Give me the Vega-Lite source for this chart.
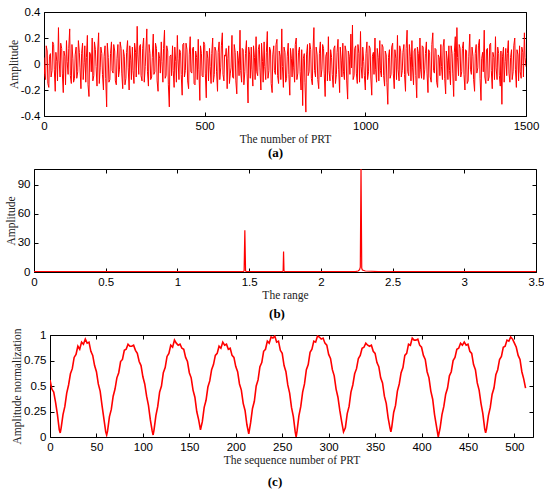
{
  "$schema": "https://vega.github.io/schema/vega-lite/v6.json",
  "padding": {"left": 0, "top": 6, "right": 0, "bottom": 0},
  "spacing": 7,
  "datasets": {
    "prt": [
      {"n":0,"amp":0.05},{"n":5,"amp":-0.12},{"n":10,"amp":0.10},{"n":15,"amp":-0.18},{"n":20,"amp":0.08},{"n":25,"amp":-0.05},{"n":30,"amp":0.15},{"n":35,"amp":-0.21},{"n":40,"amp":0.02},{"n":45,"amp":0.28},
      {"n":50,"amp":-0.10},{"n":55,"amp":0.12},{"n":60,"amp":-0.22},{"n":65,"amp":0.06},{"n":70,"amp":0.18},{"n":75,"amp":-0.08},{"n":80,"amp":0.27},{"n":85,"amp":-0.15},{"n":90,"amp":0.04},{"n":95,"amp":-0.11},
      {"n":100,"amp":0.13},{"n":105,"amp":-0.06},{"n":110,"amp":0.09},{"n":115,"amp":-0.19},{"n":120,"amp":0.16},{"n":125,"amp":0.01},{"n":130,"amp":-0.14},{"n":135,"amp":0.22},{"n":140,"amp":-0.25},{"n":145,"amp":0.07},
      {"n":150,"amp":0.20},{"n":155,"amp":-0.09},{"n":160,"amp":0.11},{"n":165,"amp":-0.17},{"n":170,"amp":0.24},{"n":175,"amp":-0.03},{"n":180,"amp":0.08},{"n":185,"amp":-0.20},{"n":190,"amp":0.14},{"n":195,"amp":-0.33},
      {"n":200,"amp":0.05},{"n":205,"amp":-0.12},{"n":210,"amp":0.17},{"n":215,"amp":-0.07},{"n":220,"amp":0.10},{"n":225,"amp":-0.16},{"n":230,"amp":0.15},{"n":235,"amp":-0.04},{"n":240,"amp":0.12},{"n":245,"amp":-0.19},
      {"n":250,"amp":0.06},{"n":255,"amp":-0.11},{"n":260,"amp":0.18},{"n":265,"amp":-0.20},{"n":270,"amp":0.03},{"n":275,"amp":0.13},{"n":280,"amp":-0.15},{"n":285,"amp":0.09},{"n":290,"amp":0.29},{"n":295,"amp":-0.08},
      {"n":300,"amp":0.15},{"n":305,"amp":-0.13},{"n":310,"amp":0.20},{"n":315,"amp":-0.02},{"n":320,"amp":0.27},{"n":325,"amp":-0.17},{"n":330,"amp":0.08},{"n":335,"amp":-0.10},{"n":340,"amp":0.23},{"n":345,"amp":-0.06},
      {"n":350,"amp":0.12},{"n":355,"amp":-0.21},{"n":360,"amp":0.04},{"n":365,"amp":0.17},{"n":370,"amp":-0.14},{"n":375,"amp":0.26},{"n":380,"amp":-0.09},{"n":385,"amp":0.10},{"n":390,"amp":-0.33},{"n":395,"amp":0.07},
      {"n":400,"amp":0.14},{"n":405,"amp":-0.18},{"n":410,"amp":0.02},{"n":415,"amp":0.22},{"n":420,"amp":-0.12},{"n":425,"amp":0.09},{"n":430,"amp":-0.24},{"n":435,"amp":0.16},{"n":440,"amp":-0.05},{"n":445,"amp":0.11},
      {"n":450,"amp":-0.19},{"n":455,"amp":0.21},{"n":460,"amp":-0.07},{"n":465,"amp":0.13},{"n":470,"amp":-0.16},{"n":475,"amp":0.05},{"n":480,"amp":0.19},{"n":485,"amp":-0.28},{"n":490,"amp":0.08},{"n":495,"amp":-0.10},
      {"n":500,"amp":0.15},{"n":505,"amp":-0.26},{"n":510,"amp":0.04},{"n":515,"amp":0.12},{"n":520,"amp":-0.15},{"n":525,"amp":0.20},{"n":530,"amp":-0.08},{"n":535,"amp":0.10},{"n":540,"amp":-0.21},{"n":545,"amp":0.17},
      {"n":550,"amp":-0.03},{"n":555,"amp":0.24},{"n":560,"amp":-0.13},{"n":565,"amp":0.06},{"n":570,"amp":-0.19},{"n":575,"amp":0.14},{"n":580,"amp":-0.07},{"n":585,"amp":0.22},{"n":590,"amp":-0.11},{"n":595,"amp":0.09},
      {"n":600,"amp":-0.23},{"n":605,"amp":0.03},{"n":610,"amp":0.26},{"n":615,"amp":-0.14},{"n":620,"amp":0.11},{"n":625,"amp":-0.06},{"n":630,"amp":0.18},{"n":635,"amp":-0.30},{"n":640,"amp":0.07},{"n":645,"amp":0.13},
      {"n":650,"amp":-0.17},{"n":655,"amp":0.05},{"n":660,"amp":0.21},{"n":665,"amp":-0.09},{"n":670,"amp":0.15},{"n":675,"amp":-0.20},{"n":680,"amp":0.02},{"n":685,"amp":0.17},{"n":690,"amp":-0.12},{"n":695,"amp":0.25},
      {"n":700,"amp":-0.05},{"n":705,"amp":0.10},{"n":710,"amp":-0.22},{"n":715,"amp":0.14},{"n":720,"amp":-0.08},{"n":725,"amp":0.19},{"n":730,"amp":-0.15},{"n":735,"amp":0.06},{"n":740,"amp":0.27},{"n":745,"amp":-0.18},
      {"n":750,"amp":0.09},{"n":755,"amp":-0.11},{"n":760,"amp":0.16},{"n":765,"amp":-0.24},{"n":770,"amp":0.04},{"n":775,"amp":0.12},{"n":780,"amp":-0.14},{"n":785,"amp":0.20},{"n":790,"amp":-0.07},{"n":795,"amp":0.13},
      {"n":800,"amp":-0.20},{"n":805,"amp":-0.32},{"n":810,"amp":0.08},{"n":815,"amp":-0.37},{"n":820,"amp":0.15},{"n":825,"amp":-0.06},{"n":830,"amp":0.11},{"n":835,"amp":-0.16},{"n":840,"amp":0.28},{"n":845,"amp":-0.10},
      {"n":850,"amp":0.07},{"n":855,"amp":-0.19},{"n":860,"amp":0.17},{"n":865,"amp":-0.04},{"n":870,"amp":0.12},{"n":875,"amp":-0.25},{"n":880,"amp":0.09},{"n":885,"amp":0.21},{"n":890,"amp":-0.13},{"n":895,"amp":0.05},
      {"n":900,"amp":-0.18},{"n":905,"amp":0.14},{"n":910,"amp":-0.08},{"n":915,"amp":0.19},{"n":920,"amp":-0.22},{"n":925,"amp":0.03},{"n":930,"amp":0.16},{"n":935,"amp":-0.12},{"n":940,"amp":0.10},{"n":945,"amp":-0.27},
      {"n":950,"amp":0.06},{"n":955,"amp":0.23},{"n":960,"amp":0.30},{"n":965,"amp":-0.09},{"n":970,"amp":0.14},{"n":975,"amp":-0.15},{"n":980,"amp":0.08},{"n":985,"amp":0.25},{"n":990,"amp":-0.11},{"n":995,"amp":0.02},
      {"n":1000,"amp":-0.20},{"n":1005,"amp":0.17},{"n":1010,"amp":-0.06},{"n":1015,"amp":0.12},{"n":1020,"amp":-0.24},{"n":1025,"amp":0.09},{"n":1030,"amp":0.20},{"n":1035,"amp":-0.14},{"n":1040,"amp":0.05},{"n":1045,"amp":0.18},
      {"n":1050,"amp":-0.10},{"n":1055,"amp":0.13},{"n":1060,"amp":-0.17},{"n":1065,"amp":0.07},{"n":1070,"amp":-0.31},{"n":1075,"amp":0.11},{"n":1080,"amp":-0.08},{"n":1085,"amp":0.16},{"n":1090,"amp":-0.19},{"n":1095,"amp":0.04},
      {"n":1100,"amp":0.22},{"n":1105,"amp":-0.13},{"n":1110,"amp":0.10},{"n":1115,"amp":-0.05},{"n":1120,"amp":0.15},{"n":1125,"amp":-0.21},{"n":1130,"amp":0.26},{"n":1135,"amp":-0.09},{"n":1140,"amp":0.06},{"n":1145,"amp":0.18},
      {"n":1150,"amp":-0.16},{"n":1155,"amp":0.12},{"n":1160,"amp":-0.26},{"n":1165,"amp":0.08},{"n":1170,"amp":0.20},{"n":1175,"amp":-0.11},{"n":1180,"amp":0.13},{"n":1185,"amp":-0.04},{"n":1190,"amp":0.17},{"n":1195,"amp":-0.22},
      {"n":1200,"amp":0.09},{"n":1205,"amp":-0.14},{"n":1210,"amp":0.24},{"n":1215,"amp":-0.07},{"n":1220,"amp":0.11},{"n":1225,"amp":-0.18},{"n":1230,"amp":0.05},{"n":1235,"amp":0.15},{"n":1240,"amp":-0.12},{"n":1245,"amp":0.19},
      {"n":1250,"amp":-0.23},{"n":1255,"amp":0.03},{"n":1260,"amp":0.14},{"n":1265,"amp":-0.16},{"n":1270,"amp":0.08},{"n":1275,"amp":-0.25},{"n":1280,"amp":0.21},{"n":1285,"amp":0.28},{"n":1290,"amp":-0.09},{"n":1295,"amp":0.12},
      {"n":1300,"amp":-0.06},{"n":1305,"amp":0.17},{"n":1310,"amp":-0.20},{"n":1315,"amp":0.10},{"n":1320,"amp":-0.13},{"n":1325,"amp":0.23},{"n":1330,"amp":-0.08},{"n":1335,"amp":0.06},{"n":1340,"amp":-0.21},{"n":1345,"amp":0.15},
      {"n":1350,"amp":-0.03},{"n":1355,"amp":0.19},{"n":1360,"amp":-0.28},{"n":1365,"amp":0.09},{"n":1370,"amp":0.26},{"n":1375,"amp":-0.15},{"n":1380,"amp":0.12},{"n":1385,"amp":-0.10},{"n":1390,"amp":0.16},{"n":1395,"amp":-0.19},
      {"n":1400,"amp":0.05},{"n":1405,"amp":0.21},{"n":1410,"amp":-0.12},{"n":1415,"amp":0.08},{"n":1420,"amp":-0.17},{"n":1425,"amp":-0.31},{"n":1430,"amp":0.13},{"n":1435,"amp":0.02},{"n":1440,"amp":-0.09},{"n":1445,"amp":0.18},
      {"n":1450,"amp":-0.14},{"n":1455,"amp":0.11},{"n":1460,"amp":-0.06},{"n":1465,"amp":0.20},{"n":1470,"amp":-0.18},{"n":1475,"amp":0.07},{"n":1480,"amp":0.14},{"n":1485,"amp":-0.11},{"n":1490,"amp":0.09},{"n":1495,"amp":0.24},
      {"n":1500,"amp":-0.02},
      {"n":2,"amp":-0.08},{"n":7,"amp":0.14},{"n":12,"amp":-0.15},{"n":17,"amp":0.06},{"n":22,"amp":-0.10},{"n":27,"amp":0.17},{"n":32,"amp":-0.04},{"n":37,"amp":0.09},{"n":42,"amp":-0.13},{"n":47,"amp":0.03},
      {"n":52,"amp":0.16},{"n":57,"amp":-0.07},{"n":62,"amp":0.10},{"n":67,"amp":-0.16},{"n":72,"amp":0.02},{"n":77,"amp":0.12},{"n":82,"amp":-0.09},{"n":87,"amp":0.15},{"n":92,"amp":-0.14},{"n":97,"amp":0.07},
      {"n":102,"amp":-0.11},{"n":107,"amp":0.18},{"n":112,"amp":-0.03},{"n":117,"amp":0.08},{"n":122,"amp":-0.12},{"n":127,"amp":0.14},{"n":132,"amp":0.05},{"n":137,"amp":-0.16},{"n":142,"amp":0.09},{"n":147,"amp":-0.06},
      {"n":152,"amp":-0.13},{"n":157,"amp":0.17},{"n":162,"amp":-0.02},{"n":167,"amp":0.10},{"n":172,"amp":-0.15},{"n":177,"amp":0.13},{"n":182,"amp":-0.08},{"n":187,"amp":0.06},{"n":192,"amp":-0.11},{"n":197,"amp":0.16},
      {"n":202,"amp":-0.14},{"n":207,"amp":0.08},{"n":212,"amp":-0.05},{"n":217,"amp":0.15},{"n":222,"amp":-0.13},{"n":227,"amp":0.04},{"n":232,"amp":-0.10},{"n":237,"amp":0.17},{"n":242,"amp":-0.07},{"n":247,"amp":0.11},
      {"n":252,"amp":-0.16},{"n":257,"amp":0.09},{"n":262,"amp":-0.03},{"n":267,"amp":0.14},{"n":272,"amp":-0.12},{"n":277,"amp":-0.05},{"n":282,"amp":0.16},{"n":287,"amp":-0.10},{"n":292,"amp":0.07},{"n":297,"amp":0.13},
      {"n":302,"amp":-0.09},{"n":307,"amp":0.12},{"n":312,"amp":-0.14},{"n":317,"amp":0.10},{"n":322,"amp":-0.06},{"n":327,"amp":0.15},{"n":332,"amp":-0.12},{"n":337,"amp":0.05},{"n":342,"amp":-0.08},{"n":347,"amp":0.16},
      {"n":352,"amp":-0.13},{"n":357,"amp":0.09},{"n":362,"amp":-0.07},{"n":367,"amp":0.02},{"n":372,"amp":0.12},{"n":377,"amp":-0.11},{"n":382,"amp":0.14},{"n":387,"amp":-0.16},{"n":392,"amp":0.06},{"n":397,"amp":-0.09},
      {"n":402,"amp":-0.05},{"n":407,"amp":0.13},{"n":412,"amp":-0.14},{"n":417,"amp":0.04},{"n":422,"amp":0.11},{"n":427,"amp":-0.08},{"n":432,"amp":0.15},{"n":437,"amp":-0.10},{"n":442,"amp":0.16},{"n":447,"amp":-0.13},
      {"n":452,"amp":0.07},{"n":457,"amp":-0.06},{"n":462,"amp":0.12},{"n":467,"amp":-0.15},{"n":472,"amp":0.10},{"n":477,"amp":-0.12},{"n":482,"amp":-0.04},{"n":487,"amp":0.14},{"n":492,"amp":-0.09},{"n":497,"amp":0.17},
      {"n":502,"amp":-0.07},{"n":507,"amp":0.10},{"n":512,"amp":-0.13},{"n":517,"amp":-0.02},{"n":522,"amp":0.08},{"n":527,"amp":-0.14},{"n":532,"amp":0.13},{"n":537,"amp":-0.06},{"n":542,"amp":0.09},{"n":547,"amp":-0.12},
      {"n":552,"amp":0.14},{"n":557,"amp":-0.08},{"n":562,"amp":0.07},{"n":567,"amp":0.12},{"n":572,"amp":0.04},{"n":577,"amp":-0.15},{"n":582,"amp":-0.03},{"n":587,"amp":-0.10},{"n":592,"amp":0.15},{"n":597,"amp":-0.13},
      {"n":602,"amp":0.10},{"n":607,"amp":-0.09},{"n":612,"amp":-0.05},{"n":617,"amp":0.12},{"n":622,"amp":-0.16},{"n":627,"amp":0.08},{"n":632,"amp":-0.07},{"n":637,"amp":0.13},{"n":642,"amp":-0.11},{"n":647,"amp":-0.04},
      {"n":652,"amp":0.14},{"n":657,"amp":-0.12},{"n":662,"amp":-0.06},{"n":667,"amp":0.11},{"n":672,"amp":-0.03},{"n":677,"amp":0.16},{"n":682,"amp":-0.14},{"n":687,"amp":-0.02},{"n":692,"amp":0.09},{"n":697,"amp":-0.11},
      {"n":702,"amp":0.13},{"n":707,"amp":-0.15},{"n":712,"amp":0.07},{"n":717,"amp":-0.05},{"n":722,"amp":0.15},{"n":727,"amp":-0.09},{"n":732,"amp":0.10},{"n":737,"amp":-0.12},{"n":742,"amp":-0.02},{"n":747,"amp":0.13},
      {"n":752,"amp":-0.14},{"n":757,"amp":0.06},{"n":762,"amp":-0.08},{"n":767,"amp":0.12},{"n":772,"amp":-0.10},{"n":777,"amp":-0.03},{"n":782,"amp":0.15},{"n":787,"amp":-0.12},{"n":792,"amp":0.09},{"n":797,"amp":-0.06},
      {"n":802,"amp":0.11},{"n":807,"amp":0.04},{"n":812,"amp":-0.14},{"n":817,"amp":0.07},{"n":822,"amp":-0.09},{"n":827,"amp":0.16},{"n":832,"amp":-0.11},{"n":837,"amp":0.10},{"n":842,"amp":-0.05},{"n":847,"amp":0.13},
      {"n":852,"amp":-0.12},{"n":857,"amp":0.08},{"n":862,"amp":-0.10},{"n":867,"amp":0.15},{"n":872,"amp":-0.07},{"n":877,"amp":0.06},{"n":882,"amp":-0.13},{"n":887,"amp":-0.05},{"n":892,"amp":0.11},{"n":897,"amp":-0.08},
      {"n":902,"amp":0.12},{"n":907,"amp":-0.15},{"n":912,"amp":0.09},{"n":917,"amp":-0.04},{"n":922,"amp":0.13},{"n":927,"amp":-0.10},{"n":932,"amp":-0.06},{"n":937,"amp":0.14},{"n":942,"amp":-0.13},{"n":947,"amp":0.10},
      {"n":952,"amp":-0.08},{"n":957,"amp":-0.03},{"n":962,"amp":-0.12},{"n":967,"amp":0.12},{"n":972,"amp":-0.07},{"n":977,"amp":0.15},{"n":982,"amp":-0.14},{"n":987,"amp":-0.02},{"n":992,"amp":0.13},{"n":997,"amp":-0.09},
      {"n":1002,"amp":0.08},{"n":1007,"amp":-0.12},{"n":1012,"amp":0.14},{"n":1017,"amp":-0.10},{"n":1022,"amp":0.06},{"n":1027,"amp":-0.08},{"n":1032,"amp":-0.04},{"n":1037,"amp":0.12},{"n":1042,"amp":-0.13},{"n":1047,"amp":-0.05},
      {"n":1052,"amp":0.15},{"n":1057,"amp":-0.09},{"n":1062,"amp":0.10},{"n":1067,"amp":-0.14},{"n":1072,"amp":0.05},{"n":1077,"amp":-0.11},{"n":1082,"amp":0.13},{"n":1087,"amp":-0.07},{"n":1092,"amp":0.11},{"n":1097,"amp":-0.12},
      {"n":1102,"amp":-0.04},{"n":1107,"amp":0.14},{"n":1112,"amp":-0.10},{"n":1117,"amp":0.09},{"n":1122,"amp":-0.08},{"n":1127,"amp":0.12},{"n":1132,"amp":-0.06},{"n":1137,"amp":0.15},{"n":1142,"amp":-0.13},{"n":1147,"amp":-0.03},
      {"n":1152,"amp":0.10},{"n":1157,"amp":-0.09},{"n":1162,"amp":0.13},{"n":1167,"amp":-0.11},{"n":1172,"amp":-0.04},{"n":1177,"amp":0.14},{"n":1182,"amp":-0.12},{"n":1187,"amp":0.08},{"n":1192,"amp":-0.07},{"n":1197,"amp":0.11},
      {"n":1202,"amp":-0.10},{"n":1207,"amp":0.15},{"n":1212,"amp":-0.05},{"n":1217,"amp":0.12},{"n":1222,"amp":-0.14},{"n":1227,"amp":0.07},{"n":1232,"amp":-0.09},{"n":1237,"amp":-0.02},{"n":1242,"amp":0.13},{"n":1247,"amp":-0.11},
      {"n":1252,"amp":0.10},{"n":1257,"amp":-0.12},{"n":1262,"amp":-0.05},{"n":1267,"amp":0.14},{"n":1272,"amp":-0.07},{"n":1277,"amp":0.09},{"n":1282,"amp":-0.13},{"n":1287,"amp":0.05},{"n":1292,"amp":0.15},{"n":1297,"amp":-0.10},
      {"n":1302,"amp":0.12},{"n":1307,"amp":-0.08},{"n":1312,"amp":0.11},{"n":1317,"amp":-0.15},{"n":1322,"amp":0.06},{"n":1327,"amp":-0.04},{"n":1332,"amp":0.13},{"n":1337,"amp":-0.12},{"n":1342,"amp":0.08},{"n":1347,"amp":-0.07},
      {"n":1352,"amp":0.14},{"n":1357,"amp":-0.11},{"n":1362,"amp":0.04},{"n":1367,"amp":-0.06},{"n":1372,"amp":-0.10},{"n":1377,"amp":0.11},{"n":1382,"amp":-0.13},{"n":1387,"amp":0.15},{"n":1392,"amp":-0.05},{"n":1397,"amp":0.09},
      {"n":1402,"amp":-0.12},{"n":1407,"amp":-0.03},{"n":1412,"amp":0.13},{"n":1417,"amp":-0.09},{"n":1422,"amp":0.10},{"n":1427,"amp":0.06},{"n":1432,"amp":-0.14},{"n":1437,"amp":0.12},{"n":1442,"amp":0.08},{"n":1447,"amp":-0.07},
      {"n":1452,"amp":0.05},{"n":1457,"amp":-0.12},{"n":1462,"amp":0.14},{"n":1467,"amp":-0.04},{"n":1472,"amp":0.11},{"n":1477,"amp":-0.13},{"n":1482,"amp":-0.06},{"n":1487,"amp":0.13},{"n":1492,"amp":-0.10},{"n":1497,"amp":0.05}
    ],
    "range": [
      {"r":0,"amp":0.3},{"r":1.46,"amp":0.3},{"r":1.465,"amp":1.2},{"r":1.47,"amp":43},{"r":1.475,"amp":1.2},{"r":1.48,"amp":0.3},
      {"r":1.73,"amp":0.3},{"r":1.737,"amp":1},{"r":1.74,"amp":21},{"r":1.743,"amp":1},{"r":1.75,"amp":0.3},
      {"r":2.24,"amp":0.4},{"r":2.26,"amp":1},{"r":2.27,"amp":2.5},{"r":2.275,"amp":5},{"r":2.28,"amp":108},{"r":2.285,"amp":4},{"r":2.29,"amp":2},{"r":2.31,"amp":1},{"r":2.4,"amp":0.5},{"r":3.5,"amp":0.3}
    ],
    "seq": [
      {"n":0,"amp":0.56},{"n":2,"amp":0.47},{"n":4,"amp":0.44},{"n":6,"amp":0.34},{"n":8,"amp":0.22},{"n":10,"amp":0.07},{"n":11,"amp":0.04},{"n":12,"amp":0.09},{"n":14,"amp":0.22},{"n":16,"amp":0.30},
      {"n":18,"amp":0.43},{"n":20,"amp":0.51},{"n":22,"amp":0.62},{"n":24,"amp":0.67},{"n":26,"amp":0.78},{"n":28,"amp":0.81},{"n":30,"amp":0.89},{"n":32,"amp":0.86},{"n":34,"amp":0.93},{"n":36,"amp":0.91},
      {"n":38,"amp":0.96},{"n":40,"amp":0.92},{"n":42,"amp":0.93},{"n":44,"amp":0.84},{"n":46,"amp":0.80},{"n":48,"amp":0.70},{"n":50,"amp":0.64},{"n":52,"amp":0.52},{"n":54,"amp":0.45},{"n":56,"amp":0.31},
      {"n":58,"amp":0.18},{"n":60,"amp":0.05},{"n":61,"amp":0.02},{"n":62,"amp":0.06},{"n":64,"amp":0.20},{"n":66,"amp":0.27},{"n":68,"amp":0.40},{"n":70,"amp":0.47},{"n":72,"amp":0.58},{"n":74,"amp":0.63},
      {"n":76,"amp":0.74},{"n":78,"amp":0.76},{"n":80,"amp":0.85},{"n":82,"amp":0.86},{"n":84,"amp":0.91},{"n":86,"amp":0.89},{"n":88,"amp":0.89},{"n":90,"amp":0.90},{"n":92,"amp":0.85},{"n":94,"amp":0.82},
      {"n":96,"amp":0.74},{"n":98,"amp":0.70},{"n":100,"amp":0.59},{"n":102,"amp":0.52},{"n":104,"amp":0.40},{"n":106,"amp":0.31},{"n":108,"amp":0.17},{"n":110,"amp":0.06},{"n":111,"amp":0.02},{"n":112,"amp":0.07},
      {"n":114,"amp":0.21},{"n":116,"amp":0.30},{"n":118,"amp":0.44},{"n":120,"amp":0.50},{"n":122,"amp":0.63},{"n":124,"amp":0.68},{"n":126,"amp":0.79},{"n":128,"amp":0.82},{"n":130,"amp":0.90},{"n":132,"amp":0.88},
      {"n":134,"amp":0.95},{"n":136,"amp":0.92},{"n":138,"amp":0.90},{"n":140,"amp":0.91},{"n":142,"amp":0.87},{"n":144,"amp":0.86},{"n":146,"amp":0.78},{"n":148,"amp":0.74},{"n":150,"amp":0.63},{"n":152,"amp":0.58},
      {"n":154,"amp":0.46},{"n":156,"amp":0.39},{"n":158,"amp":0.25},{"n":160,"amp":0.17},{"n":162,"amp":0.07},{"n":164,"amp":0.15},{"n":166,"amp":0.29},{"n":168,"amp":0.36},{"n":170,"amp":0.49},{"n":172,"amp":0.55},
      {"n":174,"amp":0.66},{"n":176,"amp":0.71},{"n":178,"amp":0.80},{"n":180,"amp":0.82},{"n":182,"amp":0.89},{"n":184,"amp":0.87},{"n":186,"amp":0.93},{"n":188,"amp":0.90},{"n":190,"amp":0.91},{"n":192,"amp":0.86},
      {"n":194,"amp":0.87},{"n":196,"amp":0.80},{"n":198,"amp":0.78},{"n":200,"amp":0.69},{"n":202,"amp":0.64},{"n":204,"amp":0.52},{"n":206,"amp":0.46},{"n":208,"amp":0.33},{"n":210,"amp":0.26},{"n":212,"amp":0.12},
      {"n":214,"amp":0.03},{"n":216,"amp":0.14},{"n":218,"amp":0.28},{"n":220,"amp":0.35},{"n":222,"amp":0.50},{"n":224,"amp":0.56},{"n":226,"amp":0.69},{"n":228,"amp":0.73},{"n":230,"amp":0.84},{"n":232,"amp":0.86},
      {"n":234,"amp":0.94},{"n":236,"amp":0.92},{"n":238,"amp":0.98},{"n":240,"amp":0.97},{"n":242,"amp":0.99},{"n":244,"amp":0.93},{"n":246,"amp":0.94},{"n":248,"amp":0.85},{"n":250,"amp":0.82},{"n":252,"amp":0.70},
      {"n":254,"amp":0.64},{"n":256,"amp":0.51},{"n":258,"amp":0.43},{"n":260,"amp":0.29},{"n":262,"amp":0.20},{"n":264,"amp":0.05},{"n":265,"amp":0.0},{"n":266,"amp":0.06},{"n":268,"amp":0.21},{"n":270,"amp":0.30},
      {"n":272,"amp":0.44},{"n":274,"amp":0.52},{"n":276,"amp":0.66},{"n":278,"amp":0.71},{"n":280,"amp":0.83},{"n":282,"amp":0.86},{"n":284,"amp":0.94},{"n":286,"amp":0.93},{"n":288,"amp":0.99},{"n":290,"amp":0.98},
      {"n":292,"amp":0.96},{"n":294,"amp":0.97},{"n":296,"amp":0.92},{"n":298,"amp":0.90},{"n":300,"amp":0.81},{"n":302,"amp":0.77},{"n":304,"amp":0.66},{"n":306,"amp":0.60},{"n":308,"amp":0.47},{"n":310,"amp":0.39},
      {"n":312,"amp":0.26},{"n":314,"amp":0.15},{"n":316,"amp":0.05},{"n":318,"amp":0.09},{"n":320,"amp":0.23},{"n":322,"amp":0.30},{"n":324,"amp":0.44},{"n":326,"amp":0.51},{"n":328,"amp":0.62},{"n":330,"amp":0.67},
      {"n":332,"amp":0.77},{"n":334,"amp":0.80},{"n":336,"amp":0.87},{"n":338,"amp":0.88},{"n":340,"amp":0.92},{"n":342,"amp":0.90},{"n":344,"amp":0.89},{"n":346,"amp":0.90},{"n":348,"amp":0.84},{"n":350,"amp":0.82},
      {"n":352,"amp":0.73},{"n":354,"amp":0.69},{"n":356,"amp":0.58},{"n":358,"amp":0.53},{"n":360,"amp":0.40},{"n":362,"amp":0.33},{"n":364,"amp":0.19},{"n":366,"amp":0.09},{"n":367,"amp":0.05},{"n":368,"amp":0.10},
      {"n":370,"amp":0.24},{"n":372,"amp":0.31},{"n":374,"amp":0.45},{"n":376,"amp":0.52},{"n":378,"amp":0.63},{"n":380,"amp":0.68},{"n":382,"amp":0.80},{"n":384,"amp":0.82},{"n":386,"amp":0.91},{"n":388,"amp":0.90},
      {"n":390,"amp":0.97},{"n":392,"amp":0.95},{"n":394,"amp":0.95},{"n":396,"amp":0.96},{"n":398,"amp":0.90},{"n":400,"amp":0.88},{"n":402,"amp":0.80},{"n":404,"amp":0.76},{"n":406,"amp":0.64},{"n":408,"amp":0.58},
      {"n":410,"amp":0.45},{"n":412,"amp":0.37},{"n":414,"amp":0.22},{"n":416,"amp":0.11},{"n":418,"amp":0.0},{"n":420,"amp":0.09},{"n":422,"amp":0.22},{"n":424,"amp":0.30},{"n":426,"amp":0.42},{"n":428,"amp":0.48},
      {"n":430,"amp":0.60},{"n":432,"amp":0.64},{"n":434,"amp":0.75},{"n":436,"amp":0.78},{"n":438,"amp":0.86},{"n":440,"amp":0.87},{"n":442,"amp":0.92},{"n":444,"amp":0.90},{"n":446,"amp":0.93},{"n":448,"amp":0.90},
      {"n":450,"amp":0.91},{"n":452,"amp":0.84},{"n":454,"amp":0.82},{"n":456,"amp":0.71},{"n":458,"amp":0.66},{"n":460,"amp":0.53},{"n":462,"amp":0.46},{"n":464,"amp":0.33},{"n":466,"amp":0.23},{"n":468,"amp":0.08},
      {"n":469,"amp":0.04},{"n":470,"amp":0.08},{"n":472,"amp":0.21},{"n":474,"amp":0.29},{"n":476,"amp":0.42},{"n":478,"amp":0.48},{"n":480,"amp":0.61},{"n":482,"amp":0.66},{"n":484,"amp":0.76},{"n":486,"amp":0.79},
      {"n":488,"amp":0.88},{"n":490,"amp":0.89},{"n":492,"amp":0.95},{"n":494,"amp":0.94},{"n":496,"amp":0.98},{"n":498,"amp":0.96},{"n":500,"amp":0.92},{"n":502,"amp":0.88},{"n":504,"amp":0.80},{"n":506,"amp":0.76},
      {"n":508,"amp":0.64},{"n":510,"amp":0.57},{"n":512,"amp":0.48}
    ]
  },
  "vconcat": [
    {
      "spacing": 0,
      "hconcat": [
        {"width": 1, "height": 1, "data": {"values": []}, "mark": "point"},
        {
          "data": {"name": "prt"},
          "width": 482,
          "height": 104,
          "title": {"text": "(a)", "orient": "bottom", "anchor": "middle", "frame": "group", "dx": -9.5, "offset": 2},
          "resolve": {"axis": {"x": "independent", "y": "independent"}},
          "layer": [
            {
              "mark": {"type": "line", "color": "#ff0000", "strokeWidth": 1, "clip": true},
              "encoding": {
                "x": {"field": "n", "type": "quantitative", "scale": {"domain": [0, 1500], "nice": false},
                      "axis": {"values": [0, 500, 1000, 1500], "labelExpr": "format(datum.value, '~g')", "title": "The number of PRT"}},
                "y": {"field": "amp", "type": "quantitative", "scale": {"domain": [-0.4, 0.4], "nice": false},
                      "axis": {"values": [-0.4, -0.2, 0, 0.2, 0.4], "title": "Amplitude", "titleX": -30, "titleY": 52, "titleBaseline": "middle",
                               "labelExpr": "datum.value < 0 ? '-' + format(-datum.value, '~g') : format(datum.value, '~g')"}}
              }
            },
            {
              "mark": {"type": "line", "opacity": 0},
              "encoding": {
                "x": {"field": "n", "type": "quantitative",
                      "axis": {"orient": "top", "values": [0, 500, 1000, 1500], "labels": false, "title": ".", "titleX": -42.3, "titleY": 50, "titleAlign": "left", "titleOpacity": 0}},
                "y": {"field": "amp", "type": "quantitative",
                      "axis": {"orient": "right", "values": [-0.4, -0.2, 0, 0.2, 0.4], "labels": false, "title": null}}
              }
            }
          ]
        }
      ]
    },
    {
      "spacing": 0,
      "hconcat": [
        {"width": 1, "height": 1, "data": {"values": []}, "mark": "point"},
        {
          "data": {"name": "range"},
          "width": 502,
          "height": 103,
          "title": {"text": "(b)", "orient": "bottom", "anchor": "middle", "frame": "group", "dx": -8, "offset": 7},
          "resolve": {"axis": {"x": "independent", "y": "independent"}},
          "layer": [
            {
              "mark": {"type": "line", "color": "#ff0000", "strokeWidth": 1.2, "clip": true},
              "encoding": {
                "x": {"field": "r", "type": "quantitative", "scale": {"domain": [0, 3.5], "nice": false},
                      "axis": {"values": [0, 0.5, 1, 1.5, 2, 2.5, 3, 3.5], "labelExpr": "format(datum.value, '~g')", "title": "The range"}},
                "y": {"field": "amp", "type": "quantitative", "scale": {"domain": [0, 106], "nice": false},
                      "axis": {"values": [0, 30, 60, 90], "labelExpr": "format(datum.value, '~g')", "title": "Amplitude", "titleX": -22.3, "titleY": 51.5, "titleBaseline": "middle"}}
              }
            },
            {
              "mark": {"type": "line", "opacity": 0},
              "encoding": {
                "x": {"field": "r", "type": "quantitative",
                      "axis": {"orient": "top", "values": [0, 0.5, 1, 1.5, 2, 2.5, 3, 3.5], "labels": false, "title": ".", "titleX": -32.3, "titleY": 50, "titleAlign": "left", "titleOpacity": 0}},
                "y": {"field": "amp", "type": "quantitative",
                      "axis": {"orient": "right", "values": [0, 30, 60, 90], "labels": false, "title": null}}
              }
            }
          ]
        }
      ]
    },
    {
      "spacing": 0,
      "hconcat": [
        {"width": 1, "height": 1, "data": {"values": []}, "mark": "point"},
        {
          "data": {"name": "seq"},
          "width": 483,
          "height": 102,
          "title": {"text": "(c)", "orient": "bottom", "anchor": "middle", "frame": "group", "dx": -16.5, "offset": 10},
          "resolve": {"axis": {"x": "independent", "y": "independent"}},
          "layer": [
            {
              "mark": {"type": "line", "color": "#ff0000", "strokeWidth": 1.6, "clip": true},
              "encoding": {
                "x": {"field": "n", "type": "quantitative", "scale": {"domain": [0, 520], "nice": false},
                      "axis": {"values": [0, 50, 100, 150, 200, 250, 300, 350, 400, 450, 500], "labelExpr": "format(datum.value, '~g')", "title": "The sequence number of PRT"}},
                "y": {"field": "amp", "type": "quantitative", "scale": {"domain": [0, 1], "nice": false},
                      "axis": {"values": [0, 0.25, 0.5, 0.75, 1], "labelExpr": "format(datum.value, '~g')", "title": "Amplitude normalization", "titleX": -32.7, "titleY": 51, "titleBaseline": "middle"}}
              }
            },
            {
              "mark": {"type": "line", "opacity": 0},
              "encoding": {
                "x": {"field": "n", "type": "quantitative",
                      "axis": {"orient": "top", "values": [0, 50, 100, 150, 200, 250, 300, 350, 400, 450, 500], "labels": false, "title": ".", "titleX": -49, "titleY": 50, "titleAlign": "left", "titleOpacity": 0}},
                "y": {"field": "amp", "type": "quantitative",
                      "axis": {"orient": "right", "values": [0, 0.25, 0.5, 0.75, 1], "labels": false, "title": null}}
              }
            }
          ]
        }
      ]
    }
  ],
  "config": {
    "view": {"stroke": null},
    "axis": {
      "grid": false,
      "domainColor": "#000",
      "domainWidth": 1,
      "tickColor": "#000",
      "tickSize": -4,
      "labelPadding": 8,
      "labelFlush": false,
      "labelOverlap": false,
      "labelFont": "Liberation Sans",
      "labelFontSize": 11.5,
      "labelColor": "#000",
      "titleFont": "Liberation Serif",
      "titleFontSize": 11.5,
      "titleFontWeight": "normal",
      "titleColor": "#222",
      "titlePadding": 2
    },
    "title": {"font": "Liberation Serif", "fontSize": 13, "fontWeight": "bold", "color": "#000"}
  }
}
